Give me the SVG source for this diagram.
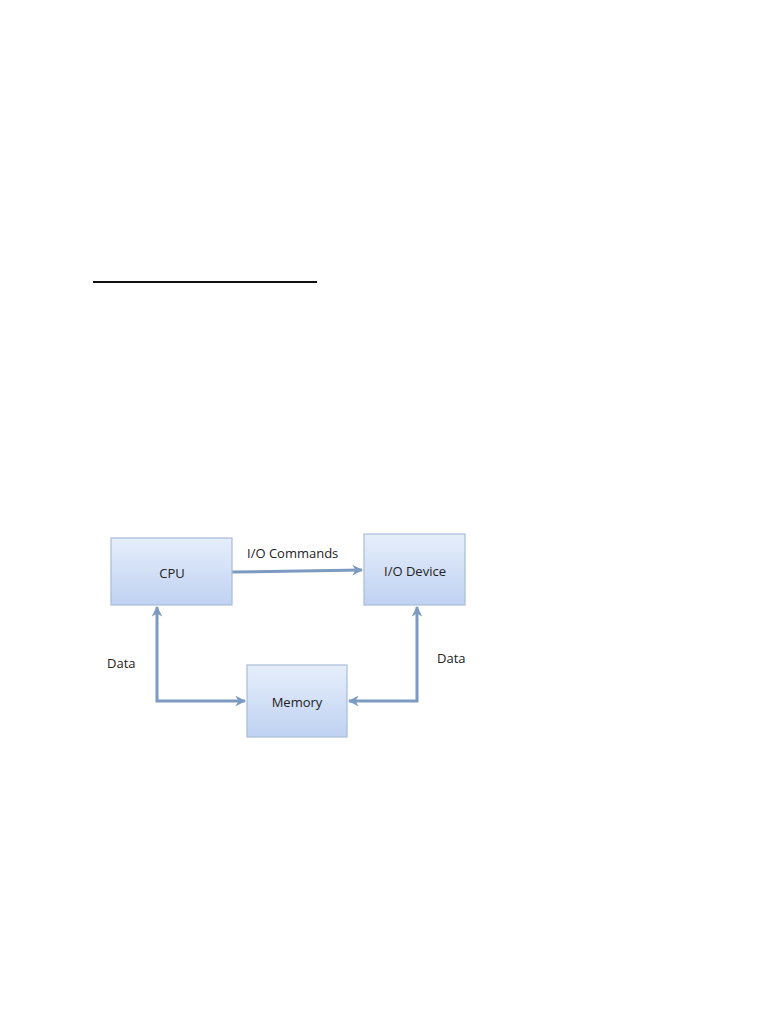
<svg xmlns="http://www.w3.org/2000/svg" width="768" height="1024" viewBox="0 0 768 1024">
<style>
.box{fill:url(#g);stroke:#a9bcd6;stroke-width:1.2}
.lbl{font-family:"Open Sans","Liberation Sans",sans-serif;font-size:13px;fill:#222}
.con{fill:none;stroke:#7d9bc1;stroke-width:3}
</style>
<defs>
<linearGradient id="g" x1="0" y1="0" x2="0" y2="1">
<stop offset="0" stop-color="#e6eefa"/>
<stop offset="1" stop-color="#bfd2f2"/>
</linearGradient>
<marker id="ah" viewBox="0 0 10 10" refX="9" refY="5" markerWidth="3.6" markerHeight="3.6" orient="auto-start-reverse" markerUnits="strokeWidth">
<path d="M0,0 L10,5 L0,10 L3,5 Z" fill="#7d9bc1"/>
</marker>
</defs>
<rect width="768" height="1024" fill="#fff"/>
<line x1="93" y1="282" x2="317" y2="282" stroke="#111" stroke-width="2"/>
<g id="connectors">
<line class="con" x1="232" y1="572" x2="362" y2="570" marker-end="url(#ah)"/>
<polyline class="con" points="157,607 157,701 245,701" marker-start="url(#ah)" marker-end="url(#ah)"/>
<polyline class="con" points="417,607 417,701 349,701" marker-start="url(#ah)" marker-end="url(#ah)"/>
<text class="lbl" x="247" y="558">I/O Commands</text>
<text class="lbl" x="107" y="668">Data</text>
<text class="lbl" x="437" y="663">Data</text>
</g>
<g id="cpu">
<rect class="box" x="111" y="538" width="121" height="67"/>
<text class="lbl" x="172" y="578" text-anchor="middle">CPU</text>
</g>
<g id="io">
<rect class="box" x="364" y="534" width="101" height="71"/>
<text class="lbl" x="415" y="576" text-anchor="middle">I/O Device</text>
</g>
<g id="memory">
<rect class="box" x="247" y="665" width="100" height="72"/>
<text class="lbl" x="297" y="707" text-anchor="middle">Memory</text>
</g>
</svg>
